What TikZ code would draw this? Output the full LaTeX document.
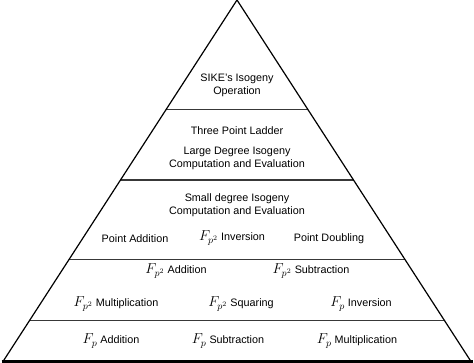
\documentclass[tikz,border=0pt]{standalone}
\usepackage{fontspec}
\setmainfont{Liberation Sans}
\usepackage{tikz}
\usetikzlibrary{calc,positioning}

\newcommand{\fieldF}[1]{{\fontsize{14}{14}\selectfont$F_{#1}$}}

\begin{document}
\begin{tikzpicture}[
  x=1pt, y=-1pt,
  txt/.style={inner sep=1pt, align=center, font=\fontsize{10.8}{13}\selectfont},
  side/.style={line width=1.2pt, black},
  layer/.style={line width=1.7pt, black!78},
  base/.style={line width=3pt, black}
]
\useasboundingbox (0,0) rectangle (474,363);
\coordinate (apex) at (237,0);
\coordinate (bl) at (3,361.5);
\coordinate (br) at (471,361.5);

% layer borders
\foreach \t in {0.3033,0.4986,0.7175,0.8864}
  \draw[layer] ($(apex)!\t!(bl)$) -- ($(apex)!\t!(br)$);
\draw[side] (bl) -- (apex) -- (br);
\draw[base] (1.5,361.5) -- (473,361.5);

% top
\node[txt] (sike) at (237,85) {SIKE's Isogeny\\Operation};

% second layer
\node[txt] (ladder) at (237,131) {Three Point Ladder};
\node[txt] (large) at (237,158) {Large Degree Isogeny\\Computation and Evaluation};

% third layer
\node[txt] (small) at (237,205.5) {Small degree Isogeny\\Computation and Evaluation};
\node[txt] (padd) at (135,239) {Point Addition};
\node[txt] (fpinv2) at (232,238) {\fieldF{p^2} Inversion};
\node[txt] (pdbl) at (329,239) {Point Doubling};

% fourth layer
\node[txt] (fpadd2) at (176,271) {\fieldF{p^2} Addition};
\node[txt] (fpsub2) at (311,271) {\fieldF{p^2} Subtraction};
\node[txt] (fpmul2) at (116,304) {\fieldF{p^2} Multiplication};
\node[txt] (fpsqr2) at (241,304) {\fieldF{p^2} Squaring};
\node[txt] (fpinv) at (361,304) {\fieldF{p} Inversion};

% bottom layer
\node[txt] (fpadd) at (111,341) {\fieldF{p} Addition};
\node[txt] (fpsub) at (228,341) {\fieldF{p} Subtraction};
\node[txt] (fpmul) at (357,341) {\fieldF{p} Multiplication};
\end{tikzpicture}
\end{document}
